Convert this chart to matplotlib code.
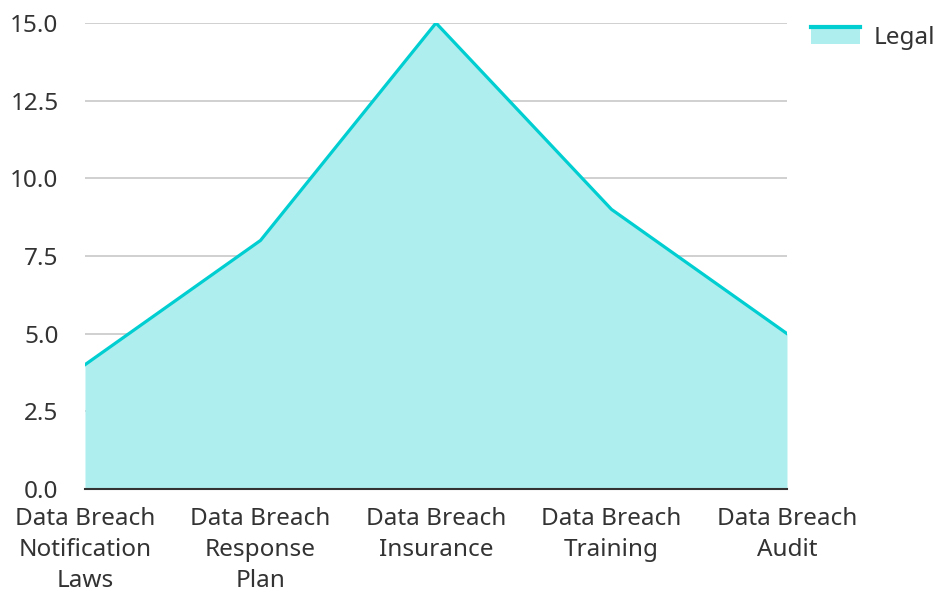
import numpy as np
import matplotlib.pyplot as plt
from matplotlib.patches import Rectangle
from matplotlib.lines import Line2D
from matplotlib.legend_handler import HandlerBase

plt.rcParams['font.family'] = ['Noto Sans', 'DejaVu Sans']

categories = ['Data Breach\nNotification\nLaws', 'Data Breach\nResponse\nPlan',
              'Data Breach\nInsurance', 'Data Breach\nTraining', 'Data Breach\nAudit']
legal = [4, 8, 15, 9, 5]
yticks = [0, 2.5, 5, 7.5, 10, 12.5, 15]

line_color = '#00ced1'
fill_color = '#afeeee'


class AreaHandler(HandlerBase):
    # filled box with the line drawn along its top edge
    def create_artists(self, legend, orig, xd, yd, w, h, fontsize, trans):
        box = Rectangle((-xd, -yd), w, h, facecolor=fill_color, edgecolor='none', transform=trans)
        top = Line2D([-xd, -xd + w], [-yd + h, -yd + h], color=line_color, lw=3, transform=trans)
        return [box, top]


fig = plt.figure(figsize=(9.36, 5.94), dpi=100)
ax = fig.add_axes([0.0908, 0.1768, 0.75, 0.7845])

x = np.arange(len(categories))
ax.fill_between(x, legal, color=fill_color, lw=0, zorder=2)
ax.plot(x, legal, color=line_color, lw=2.3, zorder=3)

ax.set_xlim(0, len(categories) - 1)
ax.set_ylim(0, 15)
ax.set_yticks(yticks)
ax.set_yticklabels([f'{v:.1f}' for v in yticks])
ax.set_xticks(x)
ax.set_xticklabels(categories, linespacing=1.38)
ax.tick_params(axis='both', length=0, labelsize=17.5, colors='#333333')
ax.tick_params(axis='y', pad=19)
ax.tick_params(axis='x', pad=13)
ax.grid(axis='y', color='#c8c8c8', lw=1.2, zorder=1)
for s in ['top', 'right', 'left']:
    ax.spines[s].set_visible(False)
ax.spines['bottom'].set_color('#333333')
ax.spines['bottom'].set_linewidth(1.5)
ax.spines['bottom'].set_zorder(4)
ax.set_axisbelow(True)

fig.legend([object()], ['Legal'], handler_map={object: AreaHandler()},
           loc='upper right', bbox_to_anchor=(1.022, 0.993),
           frameon=False, fontsize=17.5, handlelength=2.0, handleheight=0.65,
           handletextpad=0.55, labelcolor='#333333')

fig.savefig('out.png', dpi=100)
